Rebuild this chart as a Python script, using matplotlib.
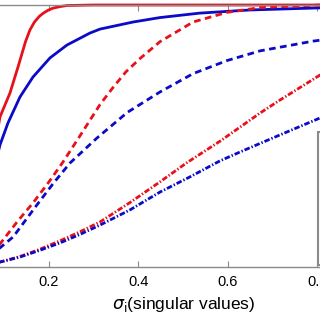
import numpy as np
import matplotlib
matplotlib.use('Agg')
import matplotlib.pyplot as plt
from matplotlib.patches import Rectangle

plt.rcParams['font.family'] = ['Liberation Sans', 'DejaVu Sans']

# valeurs (x = sigma_i)
x_red_solid = [0.0, 0.03, 0.06, 0.0905, 0.1128, 0.1307, 0.1475, 0.1575, 0.1675, 0.178, 0.1866,
               0.198, 0.209, 0.225, 0.240, 0.30, 0.45, 0.6, 0.8, 1.0]
y_red_solid = [0.0, 0.06, 0.27, 0.573, 0.664, 0.763, 0.86, 0.905, 0.935, 0.956, 0.968,
               0.98, 0.988, 0.994, 0.998, 1.0, 1.0, 1.0, 1.0, 1.0]

x_blue_solid = [0.0, 0.03, 0.06, 0.0905, 0.1084, 0.1352, 0.1642, 0.2022, 0.240, 0.2916, 0.314,
                0.388, 0.448, 0.537, 0.649, 0.806, 1.0]
y_blue_solid = [0.0, 0.08, 0.25, 0.466, 0.550, 0.649, 0.725, 0.798, 0.847, 0.893, 0.908,
                0.935, 0.952, 0.969, 0.981, 0.989, 0.995]

x_red_dash = [0.0, 0.05, 0.0905, 0.13, 0.164, 0.2, 0.231, 0.269, 0.314, 0.343, 0.372, 0.403,
              0.448, 0.522, 0.598, 0.672, 0.806, 1.0]
y_red_dash = [0.0, 0.025, 0.088, 0.175, 0.244, 0.325, 0.40, 0.50, 0.62, 0.685, 0.745, 0.795,
              0.86, 0.935, 0.972, 0.99, 1.0, 1.0]

x_blue_dash = [0.0, 0.06, 0.12, 0.173, 0.21, 0.247, 0.307, 0.375, 0.448, 0.522, 0.598, 0.672,
               0.79, 1.0]
y_blue_dash = [0.0, 0.03, 0.115, 0.237, 0.32, 0.397, 0.492, 0.59, 0.668, 0.738, 0.788, 0.825,
               0.862, 0.91]

x_red_dashdot = [0.0, 0.0905, 0.135, 0.18, 0.2246, 0.270, 0.314, 0.381, 0.448, 0.508, 0.582,
                 0.627, 0.672, 0.716, 0.806, 1.0]
y_red_dashdot = [0.0, 0.019, 0.040, 0.068, 0.100, 0.135, 0.172, 0.246, 0.325, 0.398, 0.48,
                 0.534, 0.588, 0.637, 0.733, 0.88]

x_blue_dashdot = [0.0, 0.0905, 0.135, 0.18, 0.2246, 0.270, 0.314, 0.381, 0.448, 0.515, 0.582,
                  0.627, 0.716, 0.806, 1.0]
y_blue_dashdot = [0.0, 0.019, 0.038, 0.064, 0.092, 0.125, 0.160, 0.218, 0.286, 0.344, 0.405,
                  0.439, 0.504, 0.569, 0.69]

xticks = [0, 0.2, 0.4, 0.6, 0.8, 1.0]
xtick_labels = ['', '0.2', '0.4', '0.6', '0.8', '1']

red = '#e8101a'
blue = '#0a0ac8'
gray = '#8a8a8a'

fig = plt.figure(figsize=(3.2, 3.2), dpi=100)
ax = fig.add_axes([-0.1266, 0.1656, 1.3984, 0.8188])

lw = 2.0
ax.plot(x_red_solid, y_red_solid, color=red, lw=lw, clip_on=False)
ax.plot(x_blue_solid, y_blue_solid, color=blue, lw=lw, clip_on=False)
ax.plot(x_red_dash, y_red_dash, color=red, lw=lw, dashes=(2.4, 1.6), clip_on=False)
ax.plot(x_blue_dash, y_blue_dash, color=blue, lw=lw, dashes=(2.4, 1.6), clip_on=False)
ax.plot(x_red_dashdot, y_red_dashdot, color=red, lw=lw, dashes=(2.0, 0.7, 0.5, 0.7), clip_on=False)
ax.plot(x_blue_dashdot, y_blue_dashdot, color=blue, lw=lw, dashes=(2.0, 0.7, 0.5, 0.7), clip_on=False)

# cadre de la légende (en bas à droite)
ax.add_patch(Rectangle((0.802, 0.008), 0.19, 0.507, facecolor='white', edgecolor=gray,
                       lw=1.5, zorder=5))

ax.set_xlim(0, 1)
ax.set_ylim(0, 1)
ax.set_xticks(xticks)
ax.set_xticklabels(xtick_labels, fontsize=10.5)
ax.set_yticks([])
ax.tick_params(axis='x', direction='in', length=4, color=gray, top=True, pad=6)
for s in ax.spines.values():
    s.set_color(gray)
    s.set_linewidth(1.0)
ax.set_xlabel(r'$\sigma_{\rm i}$(singular values)', fontsize=12.5, labelpad=4)

fig.savefig('out.png', dpi=100)
